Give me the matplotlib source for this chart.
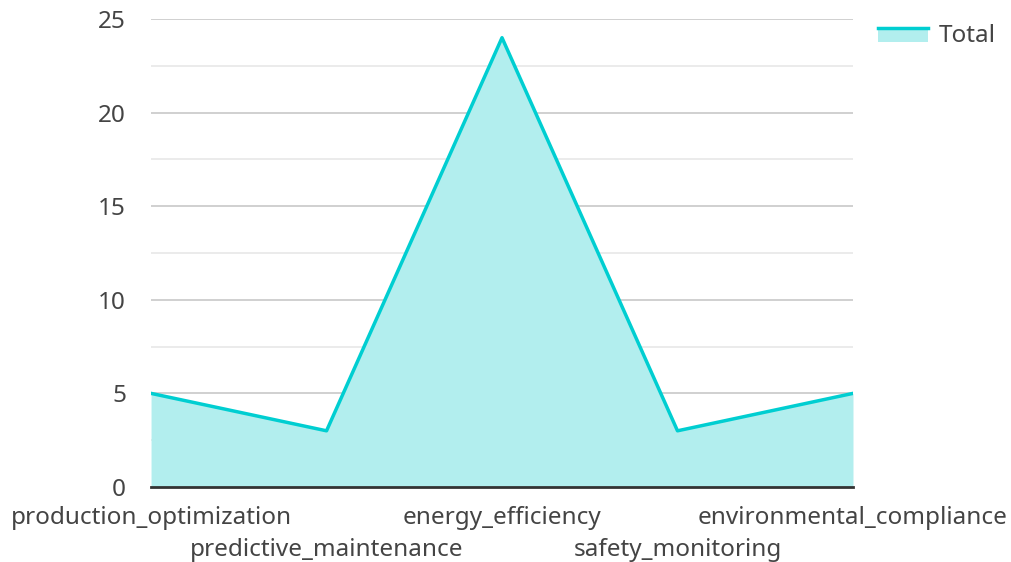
import matplotlib
matplotlib.use("Agg")
import matplotlib.pyplot as plt
from matplotlib.legend_handler import HandlerBase
from matplotlib.patches import Rectangle
from matplotlib.lines import Line2D

plt.rcParams['font.family'] = ['Noto Sans', 'DejaVu Sans']

categories = ["production_optimization", "predictive_maintenance", "energy_efficiency",
              "safety_monitoring", "environmental_compliance"]
totals = [5, 3, 24, 3, 5]
series_name = "Total"

line_color = "#00ced1"
fill_color = "#b2eeee"
text_color = "#444444"
fs = 17.5


class AreaHandler(HandlerBase):
    # fill patch with the line sitting on its top edge
    def create_artists(self, legend, orig_handle, xdescent, ydescent,
                       width, height, fontsize, trans):
        rect = Rectangle((-xdescent, -ydescent), width, height * 0.85,
                         facecolor=fill_color, edgecolor='none', transform=trans)
        ln = Line2D([-xdescent, -xdescent + width],
                    [-ydescent + height * 0.85] * 2,
                    color=line_color, lw=2.5, transform=trans)
        return [rect, ln]


fig = plt.figure(figsize=(10.11, 5.62), dpi=100)
ax = fig.add_axes([0.1494, 0.1335, 0.6943, 0.8327])

x = list(range(len(categories)))
ax.fill_between(x, totals, 0, color=fill_color, lw=0)
line, = ax.plot(x, totals, color=line_color, lw=2.5, label=series_name)

ax.set_xlim(0, len(categories) - 1)
ax.set_ylim(0, 25)
ax.set_yticks([0, 5, 10, 15, 20, 25])
ax.set_yticks([2.5, 7.5, 12.5, 17.5, 22.5], minor=True)
ax.grid(axis='y', which='major', color='#c8c8c8', lw=1.2)
ax.grid(axis='y', which='minor', color='#e8e8e8', lw=1.2)
ax.set_axisbelow(True)

# staggered labels: even categories on the first row, odd ones on the second
even = x[0::2]
odd = x[1::2]
ax.set_xticks(even)
ax.set_xticklabels(categories[0::2], fontsize=fs, color=text_color)
ax.set_xticks(odd, minor=True)
ax.set_xticklabels(categories[1::2], minor=True, fontsize=fs, color=text_color)
ax.tick_params(axis='x', which='major', length=0, pad=14)
ax.tick_params(axis='x', which='minor', length=0, pad=37)
ax.tick_params(axis='y', which='both', length=0, pad=18, labelsize=fs,
               labelcolor=text_color)

for s in ['top', 'right', 'left']:
    ax.spines[s].set_visible(False)
ax.spines['bottom'].set_color('#333333')
ax.spines['bottom'].set_linewidth(2)
ax.spines['bottom'].set_zorder(5)

ax.legend(handles=[line], labels=[series_name], handler_map={line: AreaHandler()},
          loc='upper left', bbox_to_anchor=(1.0085, 1.03), frameon=False,
          fontsize=fs, labelcolor=text_color, handlelength=2.05, handleheight=0.6,
          handletextpad=0.45, borderpad=0.3)

fig.savefig("out.png", dpi=100)
